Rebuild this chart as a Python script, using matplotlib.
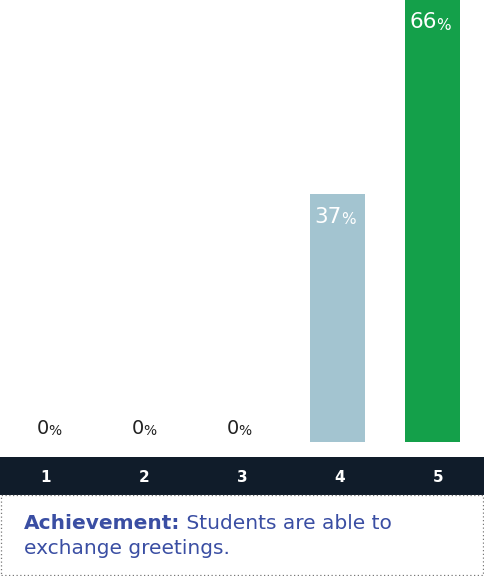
import numpy as np
import matplotlib
matplotlib.use("Agg")
import matplotlib.pyplot as plt
from matplotlib.patches import Rectangle

categories = ["1", "2", "3", "4", "5"]
values = [0, 0, 0, 37, 66]
bar_colors = ["#a3c4d0", "#a3c4d0", "#a3c4d0", "#a3c4d0", "#14a04a"]
caption_bold = "Achievement:"
caption_rest = ["Students are able to", "exchange greetings."]

plt.rcParams["font.family"] = ["DejaVu Sans"]

W, H = 484, 576
fig = plt.figure(figsize=(W / 100, H / 100), dpi=100)

def fy(px):
    return 1 - px / H

x = np.arange(len(categories))

# bars
ax = fig.add_axes([0, fy(441.7), 1, fy(0) - fy(441.7)])
ax.bar(x, values, width=55 / 95, color=bar_colors)
ax.set_xlim(-52.5 / 95, (W - 52.5) / 95)
ax.set_ylim(0, 66)
ax.axis("off")

for i, v in enumerate(values):
    if v > 0:
        t = ax.annotate(str(v), xy=(x[i] - 0.1, v), xytext=(0, -9),
                        textcoords="offset points", ha="center", va="top",
                        color="white", fontsize=15.5)
        ax.annotate("%", xy=(1, 0), xycoords=t, xytext=(-0.5, 0),
                    textcoords="offset points", ha="left", va="bottom",
                    color="white", fontsize=11)
    else:
        t = ax.annotate(str(v), xy=(x[i] - 0.1, 0), xytext=(0, 3),
                        textcoords="offset points", ha="center", va="bottom",
                        color="#222222", fontsize=14)
        ax.annotate("%", xy=(1, 0), xycoords=t, xytext=(-0.5, 0),
                    textcoords="offset points", ha="left", va="bottom",
                    color="#222222", fontsize=10)

# dark band with category labels
band = fig.add_axes([0, fy(495), 1, fy(457) - fy(495)])
band.set_facecolor("#101c2a")
band.set_xlim(-46 / 98, (W - 46) / 98)
band.set_ylim(0, 1)
band.set_xticks([])
band.set_yticks([])
for s in band.spines.values():
    s.set_visible(False)
for i, c in enumerate(categories):
    band.text(x[i], 0.45, c, ha="center", va="center", color="white",
              fontsize=11, fontweight="bold")

# caption box
fig.patches.append(Rectangle((1 / W, fy(575)), 1 - 2 / W, fy(495) - fy(575),
                             transform=fig.transFigure, fill=False,
                             edgecolor="#777777", linestyle=(0, (1, 2)),
                             linewidth=0.9))
blue = "#3a4ea3"
t = fig.text(24 / W, fy(529), caption_bold, ha="left", va="baseline",
             color=blue, fontsize=14.5, fontweight="bold")
plt.annotate(" " + caption_rest[0], xy=(1, 0), xycoords=t, ha="left",
             va="bottom", color=blue, fontsize=14.5, annotation_clip=False)
fig.text(24 / W, fy(554), caption_rest[1], ha="left", va="baseline",
         color=blue, fontsize=14.5)

fig.savefig("out.png", dpi=100)
